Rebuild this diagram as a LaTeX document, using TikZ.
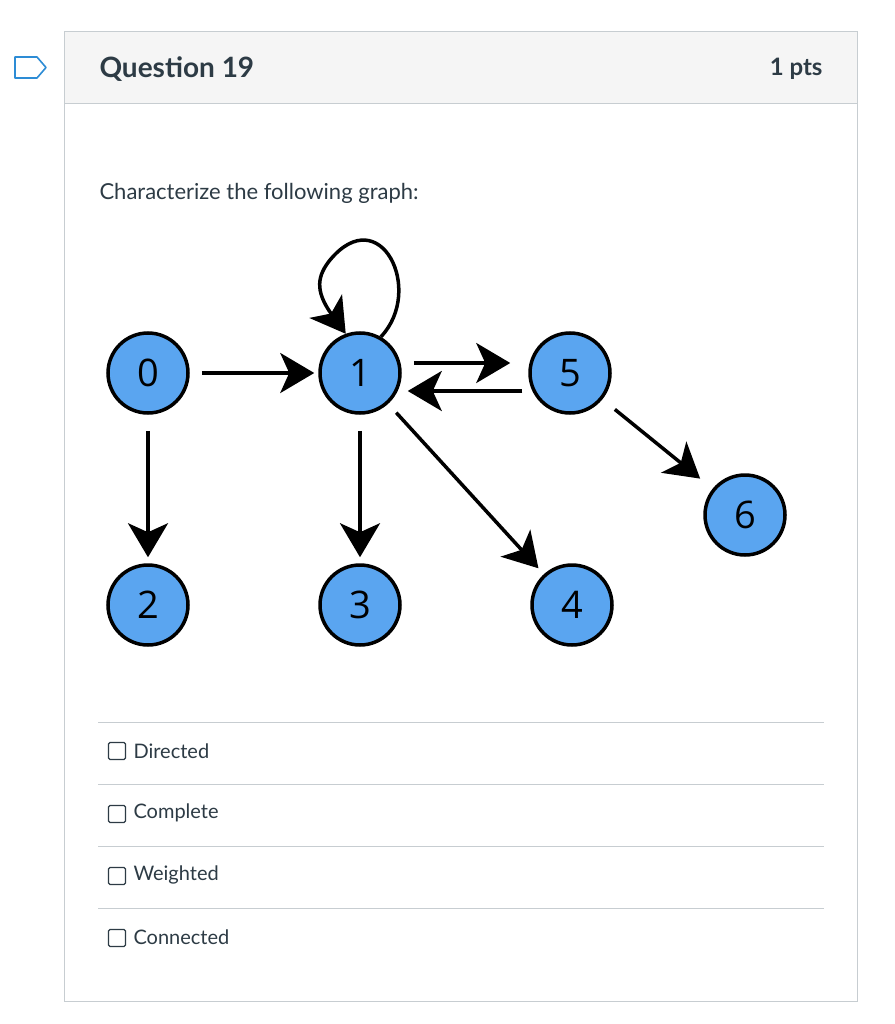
\documentclass[tikz,border=0pt]{standalone}
\usepackage{fontspec}
\setmainfont{Lato}
\newfontfamily\digfont{Open Sans}
\usetikzlibrary{arrows.meta}
\definecolor{nodeblue}{HTML}{5AA5F0}
\definecolor{frame}{HTML}{C7CDD1}
\definecolor{headbg}{HTML}{F5F5F5}
\definecolor{txt}{HTML}{2D3B45}
\definecolor{tagblue}{HTML}{2D8CD5}
\tikzset{
 vert/.style={circle,draw=black,line width=3.5pt,fill=nodeblue,minimum size=80pt,inner sep=0pt,font=\digfont\fontsize{38}{38}\selectfont},
 edge/.style={line width=3.5pt,-{Stealth[length=34pt,width=40pt,inset=9pt]}},
 sep/.style={draw=frame,line width=1pt},
 cbox/.style={draw=txt,line width=1.3pt,rounded corners=1.5pt,minimum size=17pt,inner sep=0pt},
 opt/.style={anchor=west,text=txt,font=\fontsize{20}{24}\selectfont}
}
\begin{document}
\begin{tikzpicture}[x=1pt,y=-1pt]
\useasboundingbox (0,0) rectangle (894,1024);
\fill[white] (0,0) rectangle (894,1024);
% frame
\filldraw[fill=headbg,draw=frame,line width=1pt] (64,32) rectangle (857,104);
\draw[frame,line width=1pt] (64,104) -- (64,1001) -- (857,1001) -- (857,104);
\draw[tagblue,line width=1.6pt,line join=round] (15,57) -- (37,57) -- (46,67.5) -- (37,78) -- (15,78) -- cycle;
\node[anchor=west,text=txt,font=\bfseries\fontsize{28}{32}\selectfont] (q) at (96,69) {Question 19};
\node[anchor=east,text=txt,font=\bfseries\fontsize{24}{28}\selectfont] (p) at (826,69) {1 pts};
\node[anchor=west,text=txt,font=\fontsize{22}{26}\selectfont] (c) at (96,193) {Characterize the following graph:};
% graph
\node[vert] (n0) at (148,373) {0};
\node[vert] (n1) at (360,373) {1};
\node[vert] (n5) at (570,373) {5};
\node[vert] (n6) at (745,515) {6};
\node[vert] (n2) at (148,605) {2};
\node[vert] (n3) at (360,605) {3};
\node[vert] (n4) at (572,605) {4};
\draw[edge,shorten <=12pt,shorten >=4pt] (n0) -- (n1);
\draw[edge,shorten <=16pt,shorten >=6pt] (n0) -- (n2);
\draw[edge,shorten <=16pt,shorten >=6pt] (n1) -- (n3);
\draw[edge,shorten <=12pt,shorten >=8pt] (n1) -- (n4);
\draw[edge,shorten <=16pt,shorten >=16pt] (n5) -- (n6);
\draw[edge,shorten <=12pt,shorten >=18pt] ([yshift=10pt]n1.east) -- ([yshift=10pt]n5.west);
\draw[edge,shorten <=6pt,shorten >=6pt] ([yshift=-18pt]n5.west) -- ([yshift=-18pt]n1.east);
\draw[edge] (n1.60) .. controls (425,290) and (380,200) .. (330,260) .. controls (318,275) and (314,290) .. (n1.110);
% options
\foreach \y in {722,784,846,908} \draw[sep] (98,\y) -- (824,\y);
\node[cbox] (b1) at (117,751) {}; \node[opt] (t1) at (130,751) {Directed};
\node[cbox] (b2) at (117,814) {}; \node[opt] (t2) at (130,813) {Complete};
\node[cbox] (b3) at (117,876) {}; \node[opt] (t3) at (130,875) {Weighted};
\node[cbox] (b4) at (117,938) {}; \node[opt] (t4) at (130,937) {Connected};
\end{tikzpicture}
\end{document}
